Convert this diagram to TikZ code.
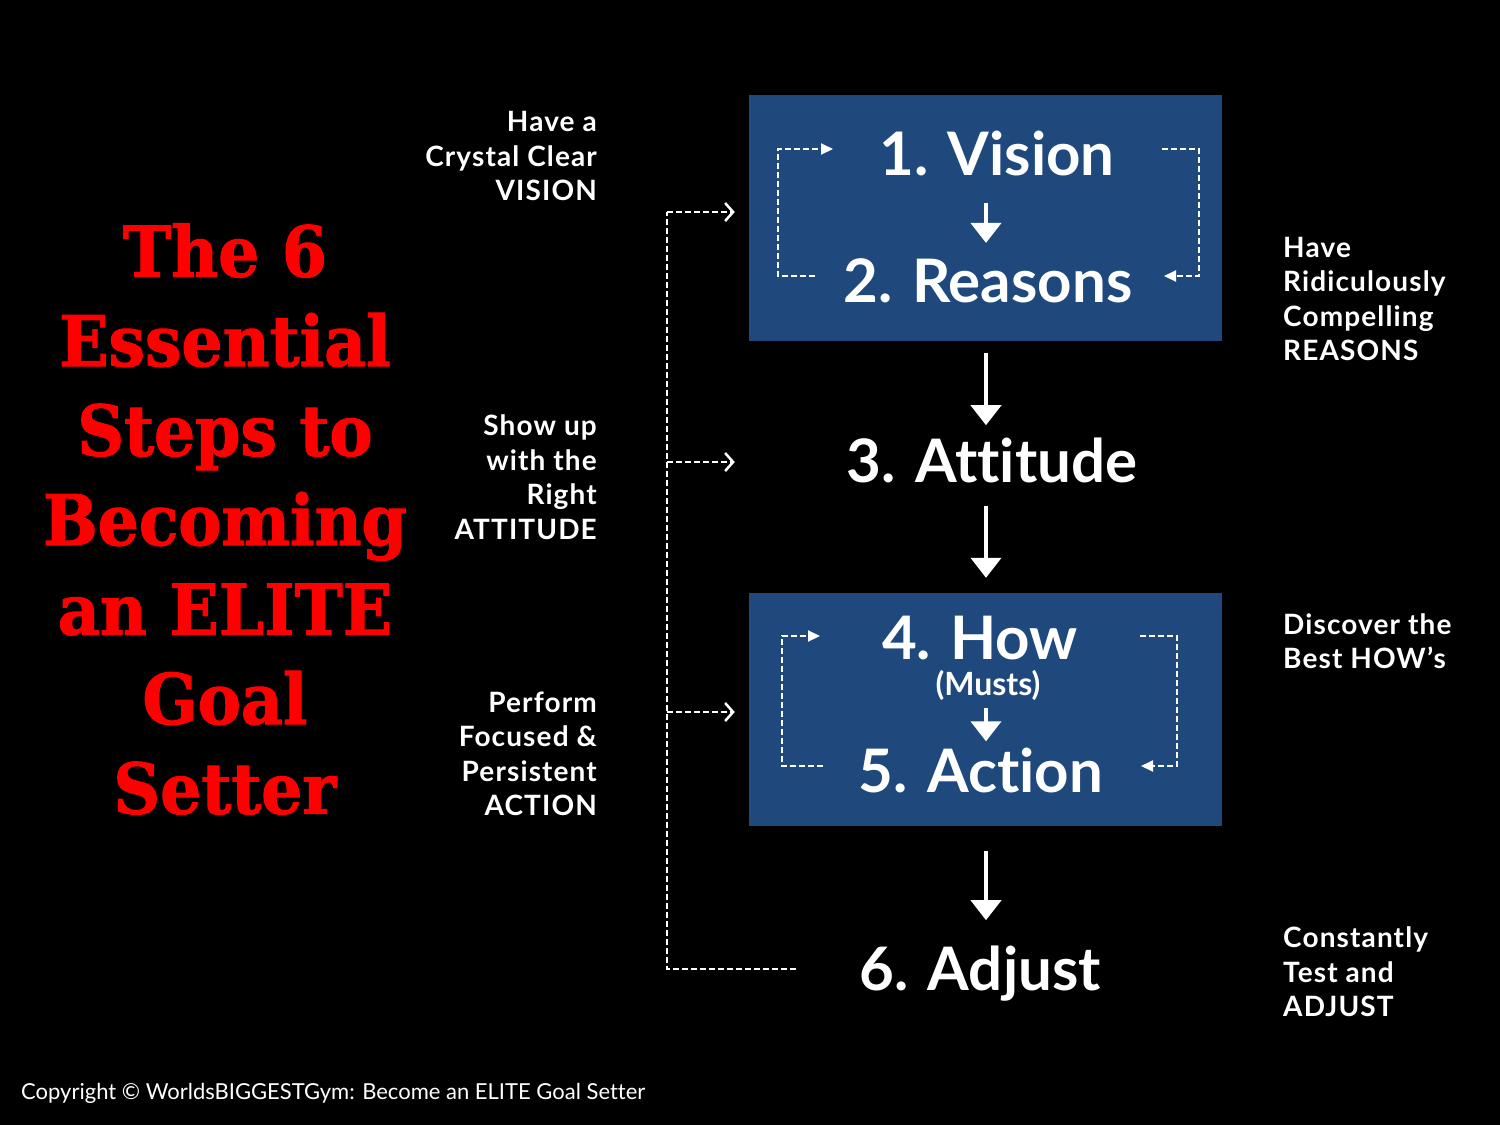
\documentclass[tikz,border=0pt]{standalone}
\usepackage{fontspec}
\setmainfont{Lato}[Ligatures=NoCommon]
\newfontfamily\titlefont{DejaVu Serif}[FakeStretch=0.925, FakeBold=1.5]
\usetikzlibrary{arrows.meta}
\definecolor{boxblue}{RGB}{31,73,125}
\definecolor{titlered}{RGB}{255,0,0}
\tikzset{
  stepbox/.style={fill=boxblue, draw=none, minimum width=473pt, inner sep=0pt},
  steptext/.style={text=white, font=\fontsize{60}{60}\selectfont\bfseries, inner sep=0pt, anchor=base},
  note/.style={text=white, font=\fontsize{28}{34.5}\selectfont\bfseries\addfontfeature{LetterSpace=4}, inner sep=0pt},
  mainarrow/.style={draw=white, line width=4pt, -{Triangle[width=30pt,length=20pt]}},
  loopline/.style={draw=white, line width=2pt, dash pattern=on 6pt off 3pt},
  looparrow/.style={loopline, -{Triangle[width=11pt,length=12pt]}},
  busline/.style={draw=white, line width=2pt, dash pattern=on 6pt off 3pt},
  busarrow/.style={busline, -{Straight Barb[length=8pt,width=18pt,line width=2.5pt]}}
}
\begin{document}
\begin{tikzpicture}[x=1pt,y=-1pt]
\fill[black] (0,0) rectangle (1500,1125);
\useasboundingbox (0,0) rectangle (1500,1125);

% boxes
\node[stepbox, minimum height=246pt] (top) at (985.5,218) {};
\node[stepbox, minimum height=233pt] (bot) at (985.5,709.5) {};

% step texts
\node[steptext] (v1) at (997,175) {1. Vision};
\node[steptext] (v2) at (988,302) {2. Reasons};
\node[steptext] (att) at (992,482) {3. Attitude};
\node[steptext] (how) at (980,659) {4. How};
\node[steptext, font=\fontsize{32}{32}\selectfont\bfseries] (musts) at (988,695) {(Musts)};
\node[steptext] (act) at (981,792) {5. Action};
\node[steptext] (adj) at (980,990) {6. Adjust};

\coordinate (xr) at (986,0);

% main arrows
\draw[mainarrow, shorten <=27pt, shorten >=15pt] (v1.south -| xr) -- (v2.north -| xr);
\draw[mainarrow, shorten <=12pt, shorten >=12pt] (top.south -| xr) -- (att.north -| xr);
\draw[mainarrow, shorten <=23pt, shorten >=15pt] (att.south -| xr) -- (bot.north -| xr);
\draw[mainarrow, shorten <=8pt, shorten >=6pt] (musts.south -| xr) -- (act.north -| xr);
\draw[mainarrow, shorten <=25pt, shorten >=25pt] (bot.south -| xr) -- (adj.north -| xr);

% inner loops, top box
\coordinate (tlA) at (815,276);
\coordinate (tlB) at (778,149);
\coordinate (tlC) at (833,149);
\draw[looparrow] (tlA) -| (tlB) -- (tlC);
\coordinate (trA) at (1162,149);
\coordinate (trB) at (1199,276);
\coordinate (trC) at (1164,276);
\draw[looparrow] (trA) -| (trB) -- (trC);

% inner loops, bottom box
\coordinate (blA) at (823,766);
\coordinate (blB) at (782,636);
\coordinate (blC) at (820,636);
\draw[looparrow] (blA) -| (blB) -- (blC);
\coordinate (brA) at (1140,636);
\coordinate (brB) at (1177,766);
\coordinate (brC) at (1141,766);
\draw[looparrow] (brA) -| (brB) -- (brC);

% outer feedback bus
\coordinate (bus1) at (667,212);
\coordinate (bus2) at (667,462);
\coordinate (bus3) at (667,712);
\coordinate (busEnd) at (796,969);
\draw[busline] (busEnd) -| (bus1);
\draw[busarrow, shorten >=14pt] (bus1) -- (bus1 -| top.west);
\draw[busarrow, shorten >=14pt] (bus2) -- (bus2 -| top.west);
\draw[busarrow, shorten >=14pt] (bus3) -- (bus3 -| bot.west);

% left notes
\node[note, align=right, anchor=east] (n1) at (597,156) {Have a\\Crystal Clear\\VISION};
\node[note, align=right, anchor=east] (n3) at (597,477) {Show up\\with the\\Right\\ATTITUDE};
\node[note, align=right, anchor=east] (n5) at (597,754) {Perform\\Focused \&\\Persistent\\ACTION};

% right notes
\node[note, align=left, anchor=west] (n2) at (1283,299) {Have\\Ridiculously\\Compelling\\REASONS};
\node[note, align=left, anchor=west] (n4) at (1283,641) {Discover the\\Best HOW’s};
\node[note, align=left, anchor=west] (n6) at (1283,972) {Constantly\\Test and\\ADJUST};

% title
\node[text=titlered, font=\titlefont\fontsize{70}{89.5}\selectfont\bfseries, align=center, inner sep=0pt] (title) at (225,519)
  {The 6\\Essential\\Steps to\\Becoming\\an ELITE\\Goal\\Setter};

% copyright
\node[text=white, font=\fontsize{22}{22}\selectfont, anchor=base west, inner sep=0pt] (copy) at (21,1099)
  {Copyright © WorldsBIGGESTGym: Become an ELITE Goal Setter};
\end{tikzpicture}
\end{document}
